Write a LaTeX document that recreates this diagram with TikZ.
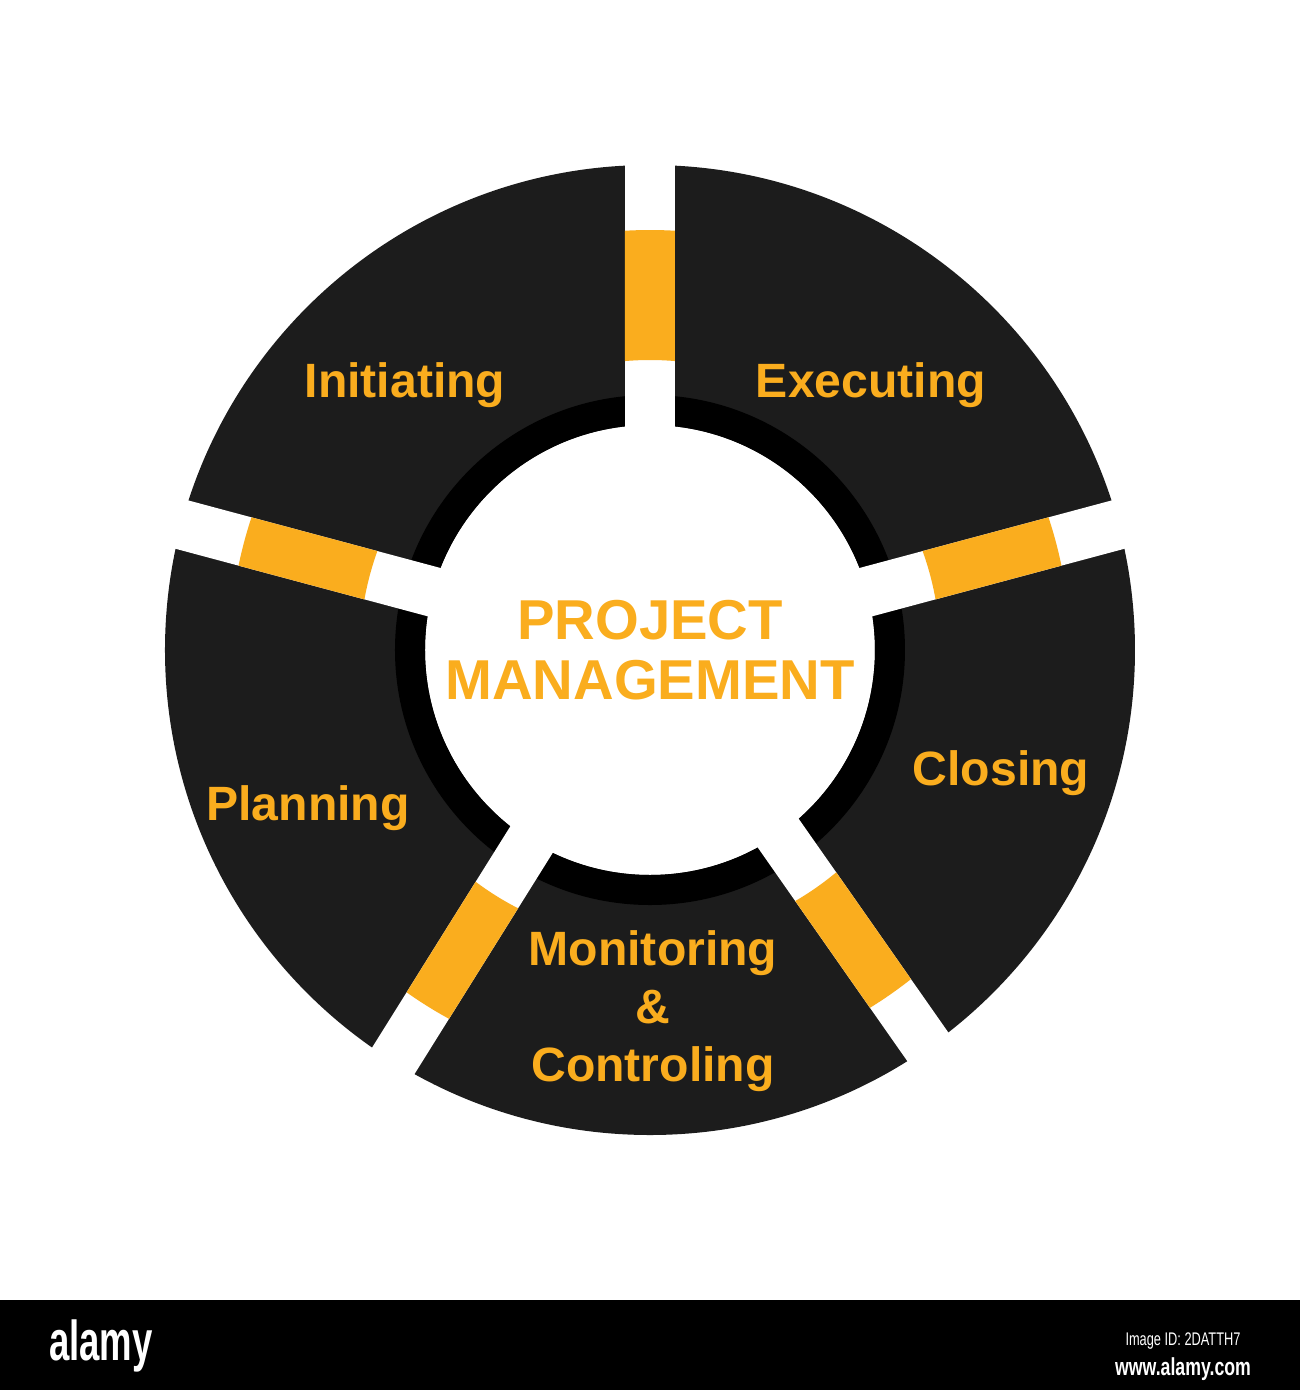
\documentclass[tikz,border=0pt]{standalone}
\usepackage{fontspec}
\setmainfont{Liberation Sans}
\usetikzlibrary{positioning}
\definecolor{pmorange}{RGB}{250,173,30}
\definecolor{segdark}{RGB}{28,28,28}
\tikzset{
  phase/.style={text=pmorange, font=\bfseries\fontsize{13.7}{16.6}\selectfont, align=center},
  hub/.style={text=pmorange, font=\bfseries\fontsize{16}{17}\selectfont, align=center},
  strip/.style={text=white, inner sep=0pt}
}
\begin{document}
\begin{tikzpicture}
\useasboundingbox (-6.5,-7.4) rectangle (6.5,6.5);
% ring and inner band
\fill[segdark, even odd rule] (0,0) circle (4.85) (0,0) circle (2.25);
\fill[black, even odd rule] (0,0) circle (2.55) (0,0) circle (2.25);
% gaps with the orange links
\foreach \a in {90,15,-55,-122,165}{
  \fill[white, rotate=\a] (2.0,-0.25) rectangle (5.0,0.25);
  \begin{scope}[rotate=\a]
    \clip (2.0,-0.25) rectangle (5.0,0.25);
    \fill[pmorange, even odd rule] (0,0) circle (4.2) (0,0) circle (2.9);
  \end{scope}
}
\node[hub] (hub) at (0,0) {PROJECT\\MANAGEMENT};
\node[phase, anchor=base] (init) at (-2.45,2.53) {Initiating};
\node[phase, anchor=base] (exec) at (2.21,2.53) {Executing};
\node[phase, anchor=base] (close) at (3.51,-1.35) {Closing};
\node[phase, anchor=base] (plan) at (-3.42,-1.70) {Planning};
\node[phase] (monitor) at (0.03,-3.61) {Monitoring\\\&\\Controling};
% bottom strip
\fill[black] (-6.5,-7.4) rectangle (6.5,-6.5);
\node[strip, font=\bfseries\fontsize{16}{16}\selectfont] (logo) at (-5.49,-6.96) {\scalebox{0.65}[1]{alamy}};
\node[strip, font=\fontsize{5.2}{6}\selectfont] (imgid) at (5.33,-6.91) {\scalebox{0.7}[1]{Image ID: 2DATTH7}};
\node[strip, font=\bfseries\fontsize{7}{8}\selectfont, below=2pt of imgid] (site) {\scalebox{0.72}[1]{www.alamy.com}};
\end{tikzpicture}
\end{document}
